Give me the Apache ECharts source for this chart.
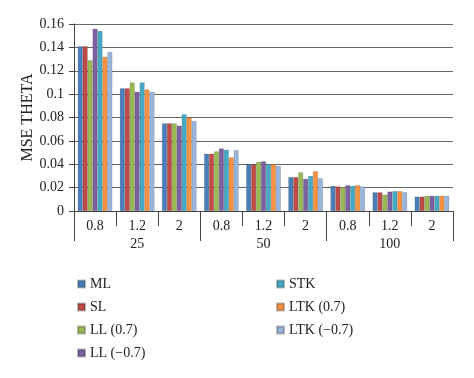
<!DOCTYPE html>
<html>
<head>
<meta charset="utf-8">
<script src="https://cdn.jsdelivr.net/npm/echarts@6/dist/echarts.min.js"></script>
<style>
html,body{margin:0;padding:0;background:#fff;}
#chart{width:474px;height:378px;}
</style>
</head>
<body>
<div id="chart"></div>
<script>
const subCategories = ['0.8','1.2','2','0.8','1.2','2','0.8','1.2','2'];
const groupCategories = ['25','50','100'];
const seriesNames = ['ML','SL','LL (0.7)','LL (\u22120.7)','STK','LTK (0.7)','LTK (\u22120.7)'];
const ML      = [0.141,0.105,0.075,0.049,0.040,0.029,0.0215,0.016,0.0123];
const SL      = [0.141,0.105,0.075,0.049,0.040,0.029,0.021,0.016,0.0123];
const LL_p07  = [0.129,0.110,0.075,0.051,0.042,0.033,0.0205,0.014,0.013];
const LL_m07  = [0.156,0.102,0.073,0.0535,0.0425,0.0275,0.022,0.0166,0.013];
const STK     = [0.154,0.110,0.0827,0.0524,0.040,0.030,0.0215,0.017,0.013];
const LTK_p07 = [0.132,0.104,0.080,0.0458,0.040,0.034,0.022,0.017,0.013];
const LTK_m07 = [0.136,0.102,0.077,0.052,0.0386,0.028,0.021,0.016,0.013];
const yTicks = [0,0.02,0.04,0.06,0.08,0.1,0.12,0.14,0.16];

const values = [ML,SL,LL_p07,LL_m07,STK,LTK_p07,LTK_m07];
const colors = ['#4A7EBB','#BE4B48','#98B954','#7D60A0','#46AAC5','#F69240','#9AB5DB'];
const FONT = 'Liberation Serif';
const TXT = '#222';

const chart = echarts.init(document.getElementById('chart'));
chart.setOption({
  animation:false,
  textStyle:{fontFamily:FONT,color:TXT},
  color:colors,
  grid:{left:74,right:21,top:24,bottom:167,containLabel:false},
  legend:[
    {data:seriesNames.slice(0,4),orient:'vertical',left:72,top:272,itemWidth:7,itemHeight:7,itemGap:9,itemTextGap:10,icon:'rect',
     textStyle:{fontFamily:FONT,fontSize:14,color:TXT,lineHeight:14}},
    {data:seriesNames.slice(4),orient:'vertical',left:271,top:272,itemWidth:7,itemHeight:7,itemGap:9,itemTextGap:10,icon:'rect',
     textStyle:{fontFamily:FONT,fontSize:14,color:TXT,lineHeight:14}}
  ],
  xAxis:[
    {type:'category',data:subCategories,position:'bottom',
     axisLine:{show:true,lineStyle:{color:'#444',width:1}},
     axisTick:{show:true,length:15,lineStyle:{color:'#444'}},
     axisLabel:{margin:8,fontFamily:FONT,fontSize:14,color:TXT,interval:0}},
    {type:'category',data:groupCategories,position:'bottom',
     axisLine:{show:false},
     axisTick:{show:true,length:30,lineStyle:{color:'#444'}},
     axisLabel:{margin:26,fontFamily:FONT,fontSize:14,color:TXT,interval:0}}
  ],
  yAxis:{type:'value',min:0,max:0.16,interval:0.02,
    name:'MSE THETA',nameLocation:'middle',nameGap:38,nameMoveOverlap:false,
    nameTextStyle:{fontFamily:FONT,fontSize:16,color:TXT},
    axisLine:{show:true,lineStyle:{color:'#444'}},
    axisTick:{show:true,length:5,lineStyle:{color:'#444'}},
    axisLabel:{margin:10,fontFamily:FONT,fontSize:14,color:TXT,
      formatter:function(v){return yTicks.indexOf(v)>=0? String(+v.toFixed(2)) : '';}},
    splitLine:{show:true,lineStyle:{color:'#666',width:1}}
  },
  series: seriesNames.map(function(n,i){
    return {name:n,type:'bar',xAxisIndex:0,data:values[i],
      barGap:'0%',barCategoryGap:'18%',
      itemStyle:{color:colors[i],borderColor:'rgba(0,0,0,0.25)',borderWidth:0.5}};
  })
});
</script>
</body>
</html>
